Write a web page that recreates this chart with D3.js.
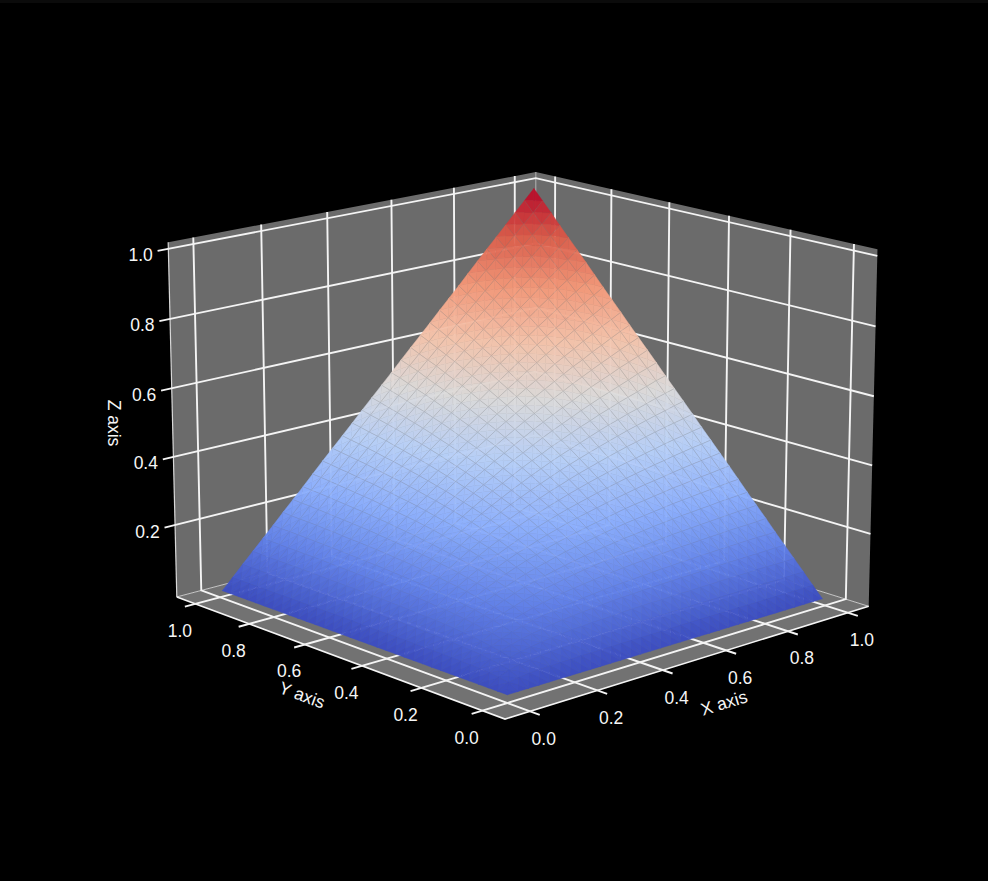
<!DOCTYPE html>
<html>
<head>
<meta charset="utf-8">
<style>
  html, body { margin: 0; background: #000; }
  text { font-family: "Liberation Sans", Arial, sans-serif; fill: #f6f6f6; }
</style>
</head>
<body>
<div id="chart"></div>
<script src="https://d3js.org/d3.v7.min.js"></script>
<script>
// Axis ticks
const xTicks = [0, 0.2, 0.4, 0.6, 0.8, 1];
const yTicks = [0, 0.2, 0.4, 0.6, 0.8, 1];
const zTicks = [0.2, 0.4, 0.6, 0.8, 1];

// Surface grid
const xs = [0,.031,.062,.093,.124,.155,.186,.217,.248,.278,.309,.34,.371,.402,.433,.464,.495,.526,.557,.588,.619,.65,.681,.712,.743,.773,.804,.835,.866,.897,.928,.959,.99];
const ys = xs;

// Surface height, lower triangle (the surface is symmetric in x and y), row i holds j = 0..i
const zRows = [
[0],
[0,.016],
[0,.021,.032],
[0,.024,.039,.049],
[0,.026,.043,.057,.067],
[0,.027,.047,.062,.075,.085],
[0,.028,.049,.067,.081,.093,.103],
[0,.028,.051,.07,.086,.1,.112,.123],
[0,.029,.053,.073,.091,.106,.12,.132,.143],
[0,.029,.054,.076,.095,.112,.127,.14,.153,.164],
[0,.029,.055,.078,.098,.116,.133,.148,.161,.174,.185],
[0,.029,.056,.08,.101,.12,.138,.154,.169,.183,.196,.208],
[0,.03,.057,.081,.103,.124,.143,.16,.176,.191,.205,.218,.231],
[0,.03,.057,.082,.106,.127,.147,.166,.183,.199,.215,.229,.242,.255],
[0,.03,.058,.084,.108,.13,.151,.171,.189,.207,.223,.238,.253,.267,.28],
[0,.03,.058,.085,.11,.133,.155,.175,.195,.213,.231,.247,.263,.278,.293,.306],
[0,.03,.059,.086,.111,.135,.158,.18,.2,.219,.238,.256,.273,.289,.304,.319,.333],
[0,.03,.059,.087,.113,.137,.161,.183,.205,.225,.245,.264,.282,.299,.316,.331,.347,.362],
[0,.031,.06,.087,.114,.139,.164,.187,.209,.231,.251,.271,.29,.309,.326,.343,.36,.376,.391],
[0,.031,.06,.088,.115,.141,.166,.19,.214,.236,.257,.278,.298,.318,.337,.355,.373,.389,.406,.422],
[0,.031,.06,.089,.116,.143,.169,.193,.217,.241,.263,.285,.306,.327,.347,.366,.385,.403,.421,.438,.455],
[0,.031,.061,.089,.117,.144,.171,.196,.221,.245,.269,.291,.313,.335,.356,.376,.396,.415,.435,.453,.471,.488],
[0,.031,.061,.09,.118,.146,.173,.199,.225,.249,.274,.297,.32,.343,.365,.386,.407,.428,.448,.468,.487,.506,.524],
[0,.031,.061,.09,.119,.147,.175,.202,.228,.253,.278,.303,.327,.351,.374,.396,.418,.44,.461,.482,.502,.522,.541,.561],
[0,.031,.061,.091,.12,.149,.176,.204,.231,.257,.283,.309,.333,.358,.382,.405,.429,.451,.474,.495,.517,.538,.559,.58,.6],
[0,.031,.061,.091,.121,.15,.178,.206,.234,.261,.287,.313,.339,.364,.39,.414,.439,.463,.486,.509,.532,.554,.577,.598,.62,.641],
[0,.031,.062,.092,.122,.151,.18,.208,.236,.264,.292,.318,.345,.371,.397,.423,.448,.473,.498,.523,.546,.57,.593,.616,.64,.662,.684],
[0,.031,.062,.092,.122,.152,.181,.21,.239,.267,.295,.323,.35,.377,.405,.431,.458,.484,.509,.535,.56,.584,.609,.634,.658,.682,.706,.729],
[0,.031,.062,.093,.123,.153,.183,.212,.241,.27,.299,.328,.356,.384,.412,.439,.466,.494,.52,.547,.574,.6,.626,.652,.677,.702,.727,.753,.777],
[0,.031,.062,.093,.123,.154,.184,.214,.244,.273,.303,.332,.361,.39,.419,.447,.475,.503,.531,.56,.587,.614,.641,.67,.696,.723,.75,.776,.802,.829],
[0,.031,.062,.093,.124,.155,.185,.216,.246,.276,.306,.336,.366,.395,.425,.454,.484,.513,.543,.571,.6,.629,.658,.686,.714,.742,.77,.799,.826,.855,.882],
[0,.031,.062,.093,.125,.155,.186,.217,.248,.279,.31,.34,.37,.401,.431,.462,.492,.523,.553,.582,.613,.643,.672,.703,.732,.762,.791,.82,.85,.88,.909,.938],
[0,.031,.063,.094,.125,.156,.188,.219,.25,.281,.313,.344,.375,.406,.438,.469,.5,.531,.563,.594,.625,.656,.688,.719,.75,.781,.813,.844,.875,.906,.938,.969,1]
];

const width = 988;
const height = 881;

// Camera of the 3D box
const azim = -132.5 * Math.PI / 180;
const elev = 15.6 * Math.PI / 180;
const dist = 8.06;
const focal = 3996;
const centerX = 521.5;
const centerY = 425.9;
const boxZ = 0.745;

// Data values to box coordinates
const xScale = d3.scaleLinear().domain([0, 1]).range([0.0635, 0.9385]);
const yScale = d3.scaleLinear().domain([0, 1]).range([0.0635, 0.9385]);
const zScale = d3.scaleLinear().domain([0, 1]).range([0.0132, 0.982]);
const surfaceZ = d3.scaleLinear().domain([0, 1]).range([0.022, 0.98]);

// Coolwarm colormap
const colorScale = d3.scaleLinear()
    .domain([0, 0.125, 0.25, 0.375, 0.5, 0.625, 0.75, 0.875, 1])
    .range(["#3b4cc0", "#6282ea", "#8db0fe", "#b8d0f9", "#dddcdc", "#f5c4ac", "#f49a7b", "#dc5e4b", "#b40426"]);

// Mesh lines fade out on the dark blue part of the surface
const meshOpacity = d3.scaleLinear().domain([0.05, 0.3]).range([0.03, 0.42]).clamp(true);

// Box coordinates (0..1 on every side) to screen
function project(u, v, w) {
    const px = u - 0.5, py = v - 0.5, pz = (w - 0.5) * boxZ;
    const ce = Math.cos(elev), se = Math.sin(elev), ca = Math.cos(azim), sa = Math.sin(azim);
    const depth = dist - (px * ce * ca + py * ce * sa + pz * se);
    const right = -px * sa + py * ca;
    const up = -px * se * ca - py * se * sa + pz * ce;
    return [centerX + focal * right / depth, centerY - focal * up / depth];
}

const line3d = d3.line();
function path3d(points) {
    return line3d(points.map(p => project(p[0], p[1], p[2])));
}

const svg = d3.select('#chart').append('svg')
    .attr('width', width)
    .attr('height', height)
    .style('display', 'block');

svg.append('rect').attr('width', width).attr('height', height).attr('fill', '#000');
svg.append('rect').attr('width', width).attr('height', 3).attr('fill', '#0b0b0b');

// Panes
const panes = [
    [[0, 1, 0], [1, 1, 0], [1, 1, 1], [0, 1, 1]],
    [[1, 0, 0], [1, 1, 0], [1, 1, 1], [1, 0, 1]],
    [[0, 0, 0], [1, 0, 0], [1, 1, 0], [0, 1, 0]]
];
svg.append('g').selectAll('path')
    .data(panes)
    .join('path')
    .attr('d', d => path3d(d) + 'Z')
    .attr('fill', (d, i) => i === 2 ? '#727272' : '#6b6b6b');

// Pane edges
const edges = [
    { pts: [[0, 1, 0], [0, 1, 1]], color: '#d8d8d8', w: 1.2 },
    { pts: [[1, 1, 0], [1, 1, 1]], color: '#a8a8a8', w: 1.2 },
    { pts: [[0, 1, 0], [1, 1, 0]], color: '#c8c8c8', w: 1 },
    { pts: [[1, 0, 0], [1, 1, 0]], color: '#c8c8c8', w: 1 },
    { pts: [[0, 1, 0], [0, 0, 0], [1, 0, 0]], color: '#f4f4f4', w: 1.6 }
];
svg.append('g').selectAll('path')
    .data(edges)
    .join('path')
    .attr('d', d => path3d(d.pts))
    .attr('fill', 'none')
    .attr('stroke', d => d.color)
    .attr('stroke-width', d => d.w);

// Grid lines and the ticks that continue them past the box
const tickOut = 0.027;
const gridLines = [];
xTicks.forEach(t => {
    gridLines.push([[xScale(t), -tickOut, 0], [xScale(t), 1, 0], [xScale(t), 1, 1]]);
});
yTicks.forEach(t => {
    gridLines.push([[-tickOut, yScale(t), 0], [1, yScale(t), 0], [1, yScale(t), 1]]);
});
zTicks.forEach(t => {
    gridLines.push([[-tickOut, 1, zScale(t)], [1, 1, zScale(t)], [1, 0, zScale(t)]]);
});
svg.append('g').selectAll('path')
    .data(gridLines)
    .join('path')
    .attr('d', path3d)
    .attr('fill', 'none')
    .attr('stroke', '#f4f4f4')
    .attr('stroke-width', 1.9);

// Surface cells, far to near; every cell is drawn as four triangles round its centre
const zAt = (i, j) => zRows[Math.max(i, j)][Math.min(i, j)];
const surfacePoint = (i, j) => [xScale(xs[i]), yScale(ys[j]), surfaceZ(zAt(i, j))];
const facets = [];
d3.range(xs.length - 1).forEach(i => {
    d3.range(ys.length - 1).forEach(j => {
        const corners = [[i, j], [i + 1, j], [i + 1, j + 1], [i, j + 1]];
        const mid = [0, 1, 2].map(k => d3.mean(corners, c => surfacePoint(c[0], c[1])[k]));
        const midZ = d3.mean(corners, c => zAt(c[0], c[1]));
        corners.forEach((c, k) => {
            const n = corners[(k + 1) % 4];
            facets.push({
                order: i + j,
                pts: [surfacePoint(c[0], c[1]), surfacePoint(n[0], n[1]), mid],
                z: (zAt(c[0], c[1]) + zAt(n[0], n[1]) + midZ) / 3
            });
        });
    });
});
facets.sort((a, b) => b.order - a.order);

const surface = svg.append('g').attr('opacity', 0.98);
surface.append('g').selectAll('path')
    .data(facets)
    .join('path')
    .attr('d', d => path3d(d.pts) + 'Z')
    .attr('fill', d => colorScale(d.z))
    .attr('stroke', d => colorScale(d.z))
    .attr('stroke-width', 0.5);

// Mesh lines along the rows and columns of the grid
const meshSegments = [];
d3.range(1, xs.length - 1).forEach(i => {
    d3.range(ys.length - 1).forEach(j => {
        meshSegments.push({ a: [i, j], b: [i, j + 1] });
        meshSegments.push({ a: [j, i], b: [j + 1, i] });
    });
});
surface.append('g').selectAll('path')
    .data(meshSegments)
    .join('path')
    .attr('d', d => path3d([surfacePoint(d.a[0], d.a[1]), surfacePoint(d.b[0], d.b[1])]))
    .attr('fill', 'none')
    .attr('stroke', '#777')
    .attr('stroke-opacity', d => meshOpacity((zAt(d.a[0], d.a[1]) + zAt(d.b[0], d.b[1])) / 2))
    .attr('stroke-width', 0.55);

// Tick labels
const fmt = d3.format('.1f');
const labels = svg.append('g')
    .attr('font-size', 17.5)
    .attr('text-anchor', 'middle')
    .attr('dominant-baseline', 'central');
xTicks.forEach(t => {
    const p = project(xScale(t), -tickOut, 0);
    labels.append('text').attr('x', p[0] + 4).attr('y', p[1] + 24).text(fmt(t));
});
yTicks.forEach(t => {
    const p = project(-tickOut, yScale(t), 0);
    labels.append('text').attr('x', p[0] - 5).attr('y', p[1] + 24).text(fmt(t));
});
zTicks.forEach(t => {
    const p = project(-tickOut, 1, zScale(t));
    labels.append('text').attr('x', p[0] - 17).attr('y', p[1] + 4).text(fmt(t));
});

// Axis labels
const axisLabels = [
    { text: 'X axis', x: 724, y: 703, rotate: -17 },
    { text: 'Y axis', x: 302, y: 695, rotate: 20 },
    { text: 'Z axis', x: 114, y: 423, rotate: 90 }
];
svg.append('g').selectAll('text')
    .data(axisLabels)
    .join('text')
    .attr('font-size', 17.5)
    .attr('text-anchor', 'middle')
    .attr('dominant-baseline', 'central')
    .attr('transform', d => `translate(${d.x},${d.y}) rotate(${d.rotate})`)
    .text(d => d.text);
</script>
</body>
</html>
